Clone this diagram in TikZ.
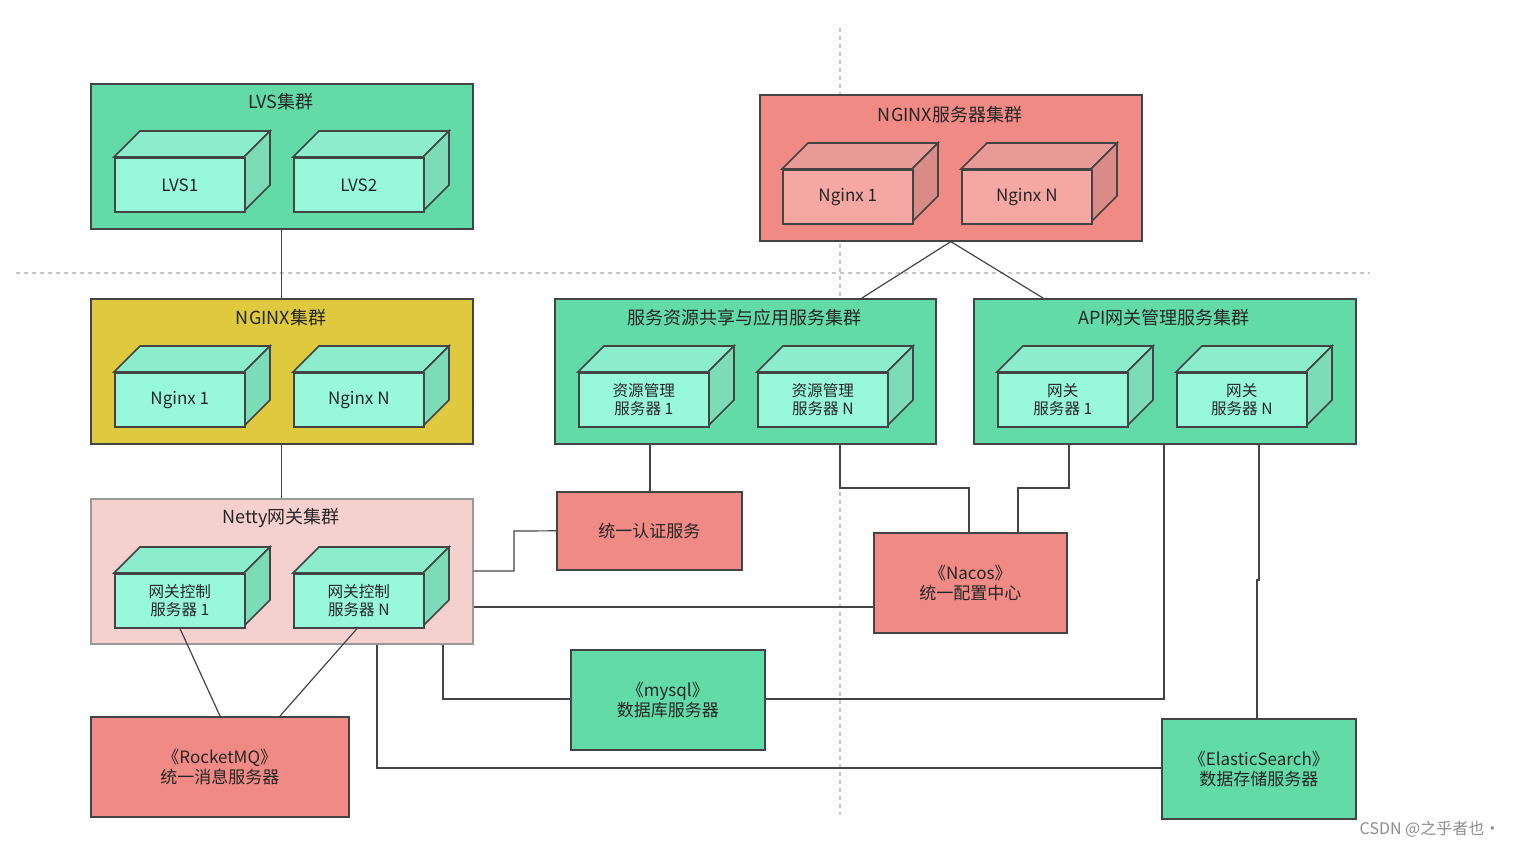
\documentclass[tikz,border=0pt]{standalone}
\usepackage{fontspec}
\setmainfont{Noto Sans CJK SC}
\begin{document}
\definecolor{gmain}{HTML}{62DBA8}
\definecolor{gfront}{HTML}{98F9DA}
\definecolor{gtop}{HTML}{8CEDCD}
\definecolor{gside}{HTML}{7DDCB8}
\definecolor{rmain}{HTML}{F08A84}
\definecolor{rfront}{HTML}{F4A7A3}
\definecolor{rtop}{HTML}{E89A96}
\definecolor{rside}{HTML}{DA8B87}
\definecolor{ymain}{HTML}{DFCA3F}
\definecolor{pmain}{HTML}{F4D0CE}
\definecolor{ln}{HTML}{444444}
\begin{tikzpicture}[x=0.5pt,y=-0.5pt,
  box/.style={draw=ln,line width=0.8pt},
  wire/.style={draw=ln,line width=0.6pt},
  title/.style={font=\fontsize{9}{11}\selectfont,text=black!85},
  lbl/.style={font=\fontsize{8.5}{10}\selectfont,align=center,text=black!85},
  small/.style={font=\fontsize{7.8}{9}\selectfont,align=center,text=black!85,inner sep=0pt}]
\useasboundingbox (0,0) rectangle (1522,848);
\newcommand{\mycube}[8]{%
  \filldraw[box,fill=#7] (#2,#3) -- ++(26,-26) -- (#4+26,#3-26) -- (#4,#3) -- cycle;
  \filldraw[box,fill=#8] (#4,#3) -- (#4+26,#3-26) -- (#4+26,#5-26) -- (#4,#5) -- cycle;
  \node[box,fill=#6,minimum width=65pt,minimum height=27pt,inner sep=0pt,anchor=north west] (#1) at (#2,#3) {};
}
% dotted guides
\draw[gray!45,dash pattern=on 2pt off 2pt,line width=0.6pt] (16,273) -- (1370,273);
\draw[gray!45,dash pattern=on 2pt off 2pt,line width=0.6pt] (840,28) -- (840,815);
% LVS
\node[box,fill=gmain,minimum width=191pt,minimum height=72.5pt,anchor=north west,inner sep=0pt] (lvs) at (90,83) {};
\node[title] at (281,102) {LVS集群};
\mycube{lvs1}{114}{157}{244}{211}{gfront}{gtop}{gside}
\node[lbl] at (lvs1) {LVS1};
\mycube{lvs2}{293}{157}{423}{211}{gfront}{gtop}{gside}
\node[lbl] at (lvs2) {LVS2};
% NGINX server cluster
\node[box,fill=rmain,minimum width=191pt,minimum height=73pt,anchor=north west,inner sep=0pt] (ngs) at (759,94) {};
\node[title] at (950,115) {NGINX服务器集群};
\mycube{ngs1}{782}{169}{912}{222}{rfront}{rtop}{rside}
\node[lbl] at (ngs1) {Nginx 1};
\mycube{ngs2}{961}{169}{1091}{222}{rfront}{rtop}{rside}
\node[lbl] at (ngs2) {Nginx N};
% NGINX cluster
\node[box,fill=ymain,minimum width=191pt,minimum height=72.5pt,anchor=north west,inner sep=0pt] (ng) at (90,298) {};
\node[title] at (281,318) {NGINX集群};
\mycube{ng1}{114}{372}{244}{426}{gfront}{gtop}{gside}
\node[lbl] at (ng1) {Nginx 1};
\mycube{ng2}{293}{372}{423}{426}{gfront}{gtop}{gside}
\node[lbl] at (ng2) {Nginx N};
% service cluster
\node[box,fill=gmain,minimum width=190.5pt,minimum height=72.5pt,anchor=north west,inner sep=0pt] (svc) at (554,298) {};
\node[title] at (744,318) {服务资源共享与应用服务集群};
\mycube{svc1}{578}{372}{708}{426}{gfront}{gtop}{gside}
\node[small] at (svc1) {资源管理\\服务器 1};
\mycube{svc2}{757}{372}{887}{426}{gfront}{gtop}{gside}
\node[small] at (svc2) {资源管理\\服务器 N};
% API cluster
\node[box,fill=gmain,minimum width=191pt,minimum height=72.5pt,anchor=north west,inner sep=0pt] (api) at (973,298) {};
\node[title] at (1164,318) {API网关管理服务集群};
\mycube{api1}{997}{372}{1127}{426}{gfront}{gtop}{gside}
\node[small] at (api1) {网关\\服务器 1};
\mycube{api2}{1176}{372}{1306}{426}{gfront}{gtop}{gside}
\node[small] at (api2) {网关\\服务器 N};
% Netty
\node[box,draw=black!40,fill=pmain,minimum width=191pt,minimum height=72.5pt,anchor=north west,inner sep=0pt] (net) at (90,498) {};
\node[title] at (281,518) {Netty网关集群};
\mycube{net1}{114}{573}{244}{626}{gfront}{gtop}{gside}
\node[small] at (net1) {网关控制\\服务器 1};
\mycube{net2}{293}{573}{423}{626}{gfront}{gtop}{gside}
\node[small] at (net2) {网关控制\\服务器 N};
% services
\node[box,fill=rmain,minimum width=92.5pt,minimum height=39pt,anchor=north west,inner sep=0pt] (auth) at (556,491) {};
\node[lbl] at (auth) {统一认证服务};
\node[box,fill=rmain,minimum width=96.5pt,minimum height=50pt,anchor=north west,inner sep=0pt] (nacos) at (873,532) {};
\node[lbl] at (nacos) {《Nacos》\\统一配置中心};
\node[box,fill=gmain,minimum width=97pt,minimum height=50pt,anchor=north west,inner sep=0pt] (mysql) at (570,649) {};
\node[lbl] at (mysql) {《mysql》\\数据库服务器};
\node[box,fill=rmain,minimum width=129pt,minimum height=50pt,anchor=north west,inner sep=0pt] (mq) at (90,716) {};
\node[lbl] at (mq) {《RocketMQ》\\统一消息服务器};
\node[box,fill=gmain,minimum width=97pt,minimum height=50pt,anchor=north west,inner sep=0pt] (es) at (1161,718) {};
\node[lbl] at (es) {《ElasticSearch》\\数据存储服务器};
% connectors
\draw[wire] (lvs.south) -- (ng.north);
\draw[wire] (ng.south) -- (net.north);
\draw[wire] (ngs.south) -- (svc.north -| 862,0);
\draw[wire] (ngs.south) -- (api.north -| 1043,0);
\draw[wire] (svc.south -| 650,0) -- (auth.north -| 650,0);
\draw[wire] (net.east |- 0,571) -- (514,571) -- (514,531) -- (auth.west);
\draw[wire] (net.east |- 0,607) -- (nacos.west |- 0,607);
\draw[wire] (svc.south -| 840,0) -- (840,488) -- (969,488) -- (nacos.north -| 969,0);
\draw[wire] (api.south -| 1069,0) -- (1069,488) -- (1018,488) -- (nacos.north -| 1018,0);
\draw[wire] (api.south -| 1164,0) -- (1164,699) -- (mysql.east |- 0,699);
\draw[wire] (api.south -| 1259,0) -- (1259,580) -- (1257,580) -- (es.north -| 1257,0);
\draw[wire] (net.south -| 443,0) -- (443,699) -- (mysql.west |- 0,699);
\draw[wire] (net.south -| 377,0) -- (377,768) -- (es.west |- 0,768);
\draw[wire] (net1.south -| 180,0) -- (mq.north -| 220,0);
\draw[wire] (net2.south -| 357,0) -- (mq.north -| 280,0);
\node[font=\fontsize{8}{10}\selectfont,text=black!45] (wm) at (1430,829) {CSDN @之乎者也·};
\end{tikzpicture}
\end{document}
